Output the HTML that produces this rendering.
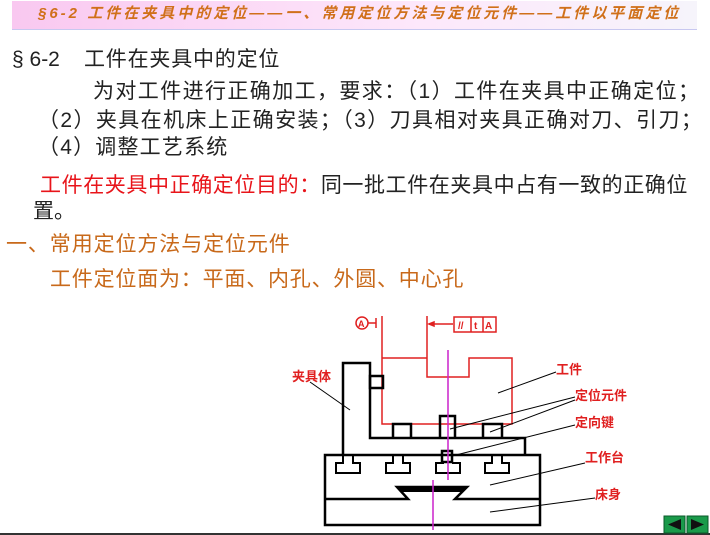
<!DOCTYPE html>
<html><head><meta charset="utf-8"><style>
body{margin:0;width:710px;height:535px;background:#fff;position:relative;overflow:hidden;font-family:"Liberation Sans","Noto Sans CJK SC",sans-serif;}
.t{position:absolute;white-space:nowrap;font-size:21px;line-height:24px;color:#222;}
.o{color:#c8691a;}
</style></head><body>
<div style="position:absolute;left:12px;top:1px;width:685px;height:28px;background:linear-gradient(90deg,#f9c8f0,#fde8fb 60%,#f6f4fb);border-bottom:1px solid #c8c8f0;"></div>
<div class="t" style="left:38px;top:4px;font-size:15px;line-height:20px;color:#d0701a;font-style:italic;font-weight:bold;letter-spacing:3px">§6-2 工件在夹具中的定位——一、常用定位方法与定位元件——工件以平面定位</div>
<div class="t" style="left:12px;top:48px;font-size:21px">§ 6-2</div>
<div class="t" style="left:84px;top:48px;letter-spacing:0.8px">工件在夹具中的定位</div>
<div class="t" style="left:93px;top:80px;letter-spacing:1.4px">为对工件进行正确加工，要求：（1）工件在夹具中正确定位；</div>
<div class="t" style="left:38px;top:109px;letter-spacing:1.4px">（2）夹具在机床上正确安装；（3）刀具相对夹具正确对刀、引刀；</div>
<div class="t" style="left:38px;top:136px;letter-spacing:1.2px">（4）调整工艺系统</div>
<div class="t" style="left:40px;top:174px;letter-spacing:0.6px"><span style="color:#e8141a">工件在夹具中正确定位目的：</span>同一批工件在夹具中占有一致的正确位</div>
<div class="t" style="left:33px;top:200px;">置。</div>
<div class="t o" style="left:6px;top:233px;letter-spacing:0.9px">一、常用定位方法与定位元件</div>
<div class="t o" style="left:50px;top:268px;letter-spacing:0.8px">工件定位面为：平面、内孔、外圆、中心孔</div>
<svg width="710" height="535" style="position:absolute;left:0;top:0" xmlns="http://www.w3.org/2000/svg">
<g stroke="#e02020" stroke-width="1.5" fill="none">
<path d="M382 316 V424 H512 V358 H469 V377 H427 V316"/>
<path d="M382 358 H427"/>
<path d="M453 324 H429"/>
<path d="M429 324 l5 -2 v4 z" fill="#e02020"/>
<rect x="454" y="317" width="42" height="15"/>
<path d="M471 317 V332 M483 317 V332"/>
<circle cx="362" cy="323" r="6"/>
<path d="M368 323 H376 M376 318 V328"/>
</g>
<g fill="#e02020" font-size="10" font-family="Liberation Sans,sans-serif" font-weight="bold">
<text x="458" y="329">//</text><text x="474" y="329">t</text><text x="485" y="329">A</text><text x="358" y="327" font-size="9">A</text>
</g>
<g stroke="#000" stroke-width="2.5" fill="none">
<path d="M343 455 V363 H370 V438 H525 V455"/>
<rect x="370" y="376" width="13" height="12"/>
<path d="M393 438 V424 H411 V438 M440 438 V416 H455 V438 M483 438 V424 H502 V438"/>
<rect x="325" y="455" width="215" height="70"/>
<path d="M325 499 H408 L397 487 H467 L455 499 H540"/>
<rect x="442" y="451" width="10" height="11"/>
</g>
<path d="M397 487 H467 L463 492 H401 Z" fill="#000"/>
<g stroke="#000" stroke-width="2" fill="none">
<path d="M343 455 v8 h-7 v10 h24 v-10 h-7 v-8"/>
<path d="M393 455 v8 h-7 v10 h24 v-10 h-7 v-8"/>
<path d="M443 462 v1 h-7 v10 h24 v-10 h-7 v-1"/>
<path d="M492 455 v8 h-7 v10 h24 v-10 h-7 v-8"/>
</g>
<g stroke="#cc22cc" stroke-width="1.5"><path d="M448 350 V480 M433 480 V530"/></g>
<g stroke="#000" stroke-width="1"><path d="M310 382 L350 410 M556 372 L498 393 M575 397 L450 429 M575 400 L490 432 M575 425 L452 456 M585 463 L490 485 M595 498 L490 512"/></g>
<g fill="#e02020" font-size="13" font-weight="bold" font-family="Liberation Sans,Noto Sans CJK SC,sans-serif">
<text x="292" y="381">夹具体</text><text x="556" y="374">工件</text><text x="575" y="400">定位元件</text><text x="575" y="427">定向键</text><text x="585" y="462">工作台</text><text x="595" y="499">床身</text>
</g>
<rect x="0" y="533" width="710" height="2" fill="#333"/>
<rect x="664" y="516" width="21" height="17" fill="#1a9a4a" stroke="#0a5a2a"/>
<rect x="687" y="516" width="21" height="17" fill="#1a9a4a" stroke="#0a5a2a"/>
<path d="M681 519 L668 524.5 L681 530 Z" fill="#111"/>
<path d="M691 519 L704 524.5 L691 530 Z" fill="#111"/>
</svg>
</body></html>
